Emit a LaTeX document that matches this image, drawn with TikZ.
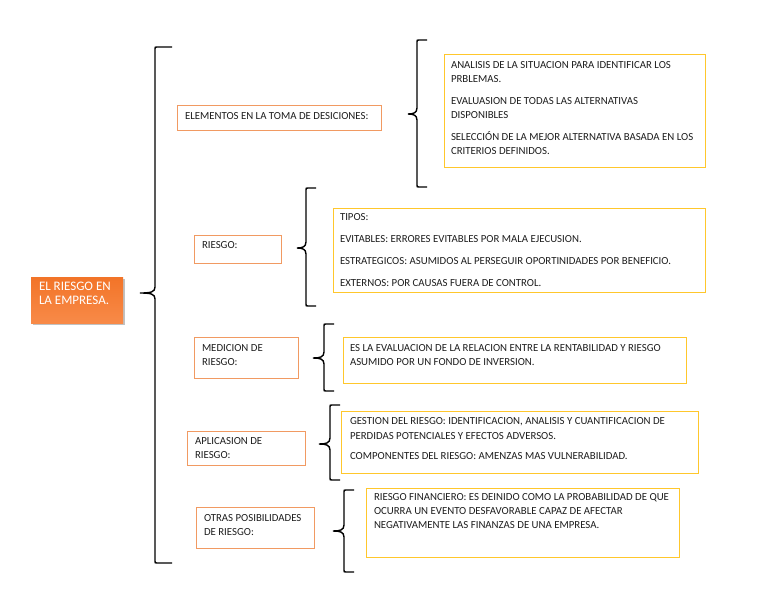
\documentclass[tikz,border=0pt]{standalone}
\usepackage{fontspec}
\setmainfont{Carlito}
\usetikzlibrary{shadows}
\definecolor{boxorange}{HTML}{F19A62}
\definecolor{boxyellow}{HTML}{FFC72C}
\definecolor{rootorange}{HTML}{F27428}
\definecolor{rootlight}{HTML}{F88A48}
\definecolor{txtgray}{HTML}{1E1E1E}
\begin{document}
\begin{tikzpicture}[x=1pt,y=-1pt,
  every node/.style={inner sep=0pt, outer sep=0pt},
  catbox/.style={draw=boxorange, line width=0.9pt, anchor=north west, rectangle},
  infobox/.style={draw=boxyellow, line width=0.9pt, anchor=north west, rectangle},
  txt/.style={anchor=base west, font=\fontsize{10.8}{13}\selectfont, text=txtgray},
  roottxt/.style={anchor=base west, font=\fontsize{13}{15}\selectfont, text=white},
  brace/.style={line width=1.4pt, black}
]
\useasboundingbox (0,0) rectangle (768,594);
\fill[white] (0,0) rectangle (768,594);

% root
\node[anchor=north west, minimum width=92, minimum height=46, top color=rootorange, bottom color=rootlight,
  drop shadow={shadow xshift=1.5pt, shadow yshift=-2pt, fill=black!40, opacity=0.6}] (root) at (31,277) {};
\node[roottxt] (rt1) at (39,290.5) {EL RIESGO EN};
\node[roottxt] (rt2) at (39,304.5) {LA EMPRESA.};

% main brace
\coordinate (mb) at (140,293);
\draw[brace] (172,47) -- (157,47) .. controls (155,47) .. (155,49) -- (155,287)
  .. controls (155,292) and (151,293) .. (mb) .. controls (151,293) and (155,294) .. (155,299)
  -- (155,561) .. controls (155,563) .. (157,563) -- (172,563);

% category boxes
\node[catbox, minimum width=204, minimum height=25] (c1) at (177,105) {};
\node[txt] (c1t) at (185,119.5) {ELEMENTOS EN LA TOMA DE DESICIONES:};

\node[catbox, minimum width=87, minimum height=28] (c2) at (194,235) {};
\node[txt] (c2t) at (202,248) {RIESGO:};

\node[catbox, minimum width=104, minimum height=41] (c3) at (194,337) {};
\node[txt] (c3t1) at (202,351) {MEDICION DE};
\node[txt] (c3t2) at (202,365) {RIESGO:};

\node[catbox, minimum width=118, minimum height=34] (c4) at (187,431) {};
\node[txt] (c4t1) at (195,444) {APLICASION DE};
\node[txt] (c4t2) at (195,458) {RIESGO:};

\node[catbox, minimum width=118, minimum height=41] (c5) at (196,507) {};
\node[txt] (c5t1) at (204,521) {OTRAS POSIBILIDADES};
\node[txt] (c5t2) at (204,535) {DE RIESGO:};

% sub braces
\coordinate (b1) at (408,114);
\draw[brace] (427,40) -- (419,40) .. controls (417,40) .. (417,42) -- (417,108)
  .. controls (417,113) and (413,114) .. (b1) .. controls (413,114) and (417,115) .. (417,120)
  -- (417,185) .. controls (417,187) .. (419,187) -- (427,187);
\coordinate (b2) at (297,248);
\draw[brace] (316,188) -- (308,188) .. controls (306,188) .. (306,190) -- (306,242)
  .. controls (306,247) and (302,248) .. (b2) .. controls (302,248) and (306,249) .. (306,254)
  -- (306,304) .. controls (306,306) .. (308,306) -- (316,306);
\coordinate (b3) at (313,358);
\draw[brace] (334,324) -- (326,324) .. controls (324,324) .. (324,326) -- (324,352)
  .. controls (324,357) and (320,358) .. (b3) .. controls (320,358) and (324,359) .. (324,364)
  -- (324,389) .. controls (324,391) .. (326,391) -- (334,391);
\coordinate (b4) at (319,444);
\draw[brace] (340,405) -- (332,405) .. controls (330,405) .. (330,407) -- (330,438)
  .. controls (330,443) and (326,444) .. (b4) .. controls (326,444) and (330,445) .. (330,450)
  -- (330,478) .. controls (330,480) .. (332,480) -- (340,480);
\coordinate (b5) at (333,531);
\draw[brace] (354,490) -- (346,490) .. controls (344,490) .. (344,492) -- (344,525)
  .. controls (344,530) and (340,531) .. (b5) .. controls (340,531) and (344,532) .. (344,537)
  -- (344,570) .. controls (344,572) .. (346,572) -- (354,572);

% info boxes
\node[infobox, minimum width=261, minimum height=113] (i1) at (444,54) {};
\node[txt] (i1a) at (451,68) {ANALISIS DE LA SITUACION PARA IDENTIFICAR LOS};
\node[txt] (i1b) at (451,82) {PRBLEMAS.};
\node[txt] (i1c) at (451,104) {EVALUASION DE TODAS LAS ALTERNATIVAS};
\node[txt] (i1d) at (451,118) {DISPONIBLES};
\node[txt] (i1e) at (451,140) {SELECCIÓN DE LA MEJOR ALTERNATIVA BASADA EN LOS};
\node[txt] (i1f) at (451,154) {CRITERIOS DEFINIDOS.};

\node[infobox, minimum width=372, minimum height=84] (i2) at (333,208) {};
\node[txt] (i2a) at (340,220.5) {TIPOS:};
\node[txt] (i2b) at (340,242.5) {EVITABLES: ERRORES EVITABLES POR MALA EJECUSION.};
\node[txt] (i2c) at (340,264) {ESTRATEGICOS: ASUMIDOS AL PERSEGUIR OPORTINIDADES POR BENEFICIO.};
\node[txt] (i2d) at (340,286) {EXTERNOS: POR CAUSAS FUERA DE CONTROL.};

\node[infobox, minimum width=343, minimum height=46] (i3) at (343,337) {};
\node[txt] (i3a) at (350,351) {ES LA EVALUACION DE LA RELACION ENTRE LA RENTABILIDAD Y RIESGO};
\node[txt] (i3b) at (350,365) {ASUMIDO POR UN FONDO DE INVERSION.};

\node[infobox, minimum width=357, minimum height=62] (i4) at (341,411) {};
\node[txt] (i4a) at (350,424.5) {GESTION DEL RIESGO: IDENTIFICACION, ANALISIS Y CUANTIFICACION DE};
\node[txt] (i4b) at (350,439) {PERDIDAS POTENCIALES Y EFECTOS ADVERSOS.};
\node[txt] (i4c) at (350,459.5) {COMPONENTES DEL RIESGO: AMENZAS MAS VULNERABILIDAD.};

\node[infobox, minimum width=313, minimum height=69] (i5) at (366,488) {};
\node[txt] (i5a) at (374,500.5) {RIESGO FINANCIERO: ES DEINIDO COMO LA PROBABILIDAD DE QUE};
\node[txt] (i5b) at (374,514.5) {OCURRA UN EVENTO DESFAVORABLE CAPAZ DE AFECTAR};
\node[txt] (i5c) at (374,528.5) {NEGATIVAMENTE LAS FINANZAS DE UNA EMPRESA.};
\end{tikzpicture}
\end{document}
